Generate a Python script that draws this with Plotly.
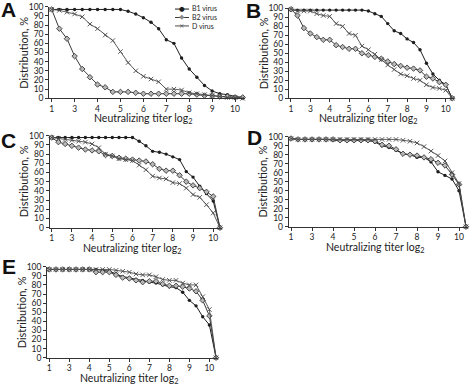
import plotly.graph_objects as go

# ---------------- data ----------------
x_index = list(range(26))                      # dilution steps (category positions)
tick_pos = [0, 3, 6, 9, 12, 15, 18, 21, 24]
tick_text = ["1", "3", "4", "5", "6", "7", "8", "9", "10"]
y_ticks = [0, 10, 20, 30, 40, 50, 60, 70, 80, 90, 100]

series_names = ["B1 virus", "B2 virus", "D virus"]

A_B1 = [97, 97, 97, 97, 97, 97, 97, 97, 97, 97, 95, 92, 88, 83, 76, 64, 60, 44, 32, 23, 14, 8, 5, 4, 2, 1]
A_B2 = [97, 76, 65, 46, 32, 23, 15, 12, 7, 7, 7, 6, 5, 5, 5, 5, 5, 5, 5, 4, 3, 3, 2, 2, 1, 1]
A_D  = [97, 96, 94, 92, 89, 81, 76, 69, 63, 51, 39, 30, 24, 21, 18, 10, 10, 9, 6, 5, 4, 3, 2, 1, 1, 0]

B_B1 = [98, 98, 98, 98, 98, 98, 98, 98, 98, 98, 98, 98, 97, 94, 91, 83, 75, 72, 66, 62, 54, 39, 27, 20, 15, 0]
B_B2 = [99, 92, 78, 72, 68, 65, 65, 59, 57, 55, 55, 50, 48, 46, 44, 41, 38, 36, 34, 33, 31, 24, 22, 18, 15, 0]
B_D  = [99, 97, 97, 97, 94, 92, 91, 83, 80, 72, 70, 58, 54, 49, 43, 37, 32, 27, 25, 22, 20, 15, 12, 11, 9, 0]

C_B1 = [98, 98, 98, 98, 98, 98, 98, 98, 98, 98, 98, 98, 98, 94, 89, 83, 82, 80, 77, 74, 61, 55, 45, 37, 29, 0]
C_B2 = [98, 93, 91, 89, 87, 85, 84, 83, 79, 78, 76, 75, 74, 73, 72, 69, 64, 62, 62, 57, 50, 46, 43, 39, 34, 0]
C_D  = [98, 97, 96, 95, 94, 93, 91, 87, 80, 78, 75, 74, 73, 68, 63, 56, 54, 53, 49, 48, 43, 36, 33, 25, 16, 0]

D_B1 = [98, 97, 97, 97, 97, 97, 96, 96, 96, 96, 96, 96, 94, 90, 88, 85, 81, 80, 77, 77, 72, 61, 57, 53, 40, 0]
D_B2 = [98, 97, 97, 97, 97, 97, 97, 96, 96, 96, 96, 96, 95, 91, 90, 86, 81, 80, 79, 77, 75, 71, 68, 58, 47, 0]
D_D  = [98, 97, 97, 97, 97, 97, 97, 97, 97, 97, 97, 97, 97, 97, 97, 97, 96, 95, 93, 89, 84, 79, 73, 60, 48, 0]

E_B1 = [97, 97, 97, 97, 97, 97, 97, 97, 96, 95, 92, 89, 88, 86, 85, 83, 82, 80, 78, 77, 72, 63, 57, 45, 36, 0]
E_B2 = [97, 97, 97, 97, 97, 97, 97, 94, 94, 94, 91, 88, 87, 85, 83, 84, 84, 81, 79, 79, 78, 76, 73, 63, 46, 0]
E_D  = [97, 97, 97, 97, 97, 97, 97, 97, 97, 97, 96, 95, 94, 92, 91, 91, 89, 86, 85, 85, 82, 80, 80, 67, 53, 0]

panels = [
    ("A", [A_B1, A_B2, A_D]),
    ("B", [B_B1, B_B2, B_D]),
    ("C", [C_B1, C_B2, C_D]),
    ("D", [D_B1, D_B2, D_D]),
    ("E", [E_B1, E_B2, E_D]),
]

# ---------------- layout geometry (pixels) ----------------
W, H = 474, 385
# (x of first point, px per step, y px of 100, y px of 0)
geom = {
    "A": (51.7, 7.64, 6.7, 98.3),
    "B": (291.0, 6.45, 8.3, 98.3),
    "C": (51.7, 6.73, 135.7, 227.7),
    "D": (291.0, 7.00, 136.7, 226.7),
    "E": (49.3, 6.67, 266.7, 357.7),
}
letter_pos = {"A": (8.5, 9.5), "B": (253.5, 10), "C": (8.5, 140), "D": (254, 137), "E": (8.5, 266.5)}
XR = (-0.32, 25.3)

line_cols = ["#1e1e1e", "#3a3a3a", "#4a4a4a"]
styles = [
    dict(line=dict(color=line_cols[0], width=1.0),
         marker=dict(symbol="circle", size=3.4, color=line_cols[0])),
    dict(line=dict(color=line_cols[1], width=1.0),
         marker=dict(symbol="diamond", size=4.2, color="#b8b8b8",
                     line=dict(color=line_cols[1], width=0.9))),
    dict(line=dict(color=line_cols[2], width=0.9),
         marker=dict(symbol="x-thin", size=4.5, color=line_cols[2],
                     line=dict(color=line_cols[2], width=0.9))),
]

FONT = "Lato"
fig = go.Figure()
layout = dict(
    width=W, height=H, margin=dict(l=0, r=0, t=0, b=0, pad=0),
    paper_bgcolor="white", plot_bgcolor="white",
    font=dict(family=FONT, color="#222"),
    showlegend=False,
)
annotations = []
shapes = []

def P(px, py):
    return px / W, 1 - py / H

for k, (name, series) in enumerate(panels):
    x0, s, y100, y0 = geom[name]
    left = x0 + XR[0] * s
    right = x0 + XR[1] * s
    xa = "xaxis" if k == 0 else f"xaxis{k+1}"
    ya = "yaxis" if k == 0 else f"yaxis{k+1}"
    xref = "x" if k == 0 else f"x{k+1}"
    yref = "y" if k == 0 else f"y{k+1}"
    layout[xa] = dict(domain=[left / W, right / W], range=list(XR), anchor=yref,
                      tickmode="array", tickvals=tick_pos, ticktext=tick_text,
                      showgrid=False, zeroline=False, showline=True, automargin=False,
                      linecolor="#333", linewidth=1, ticks="outside", ticklen=3,
                      ticklabelstandoff=-1,
                      tickcolor="#333", tickfont=dict(size=8.5, family=FONT, color="#222"))
    layout[ya] = dict(domain=[1 - y0 / H, 1 - y100 / H], range=[0, 100], anchor=xref,
                      tickmode="array", tickvals=y_ticks,
                      showgrid=False, zeroline=False, showline=True, automargin=False,
                      linecolor="#333", linewidth=1, ticks="outside", ticklen=3,
                      tickcolor="#333", tickfont=dict(size=8.5, family=FONT, color="#222"))
    for j, ys in enumerate(series):
        fig.add_trace(go.Scatter(x=x_index, y=ys, mode="lines+markers",
                                 name=series_names[j], showlegend=False,
                                 xaxis=xref, yaxis=yref, cliponaxis=False,
                                 **styles[j]))
    # panel letter
    lx, ly = P(*letter_pos[name])
    annotations.append(dict(text=f"<b>{name}</b>", x=lx, y=ly, xanchor="center", yanchor="middle",
                            xref="paper", yref="paper", showarrow=False,
                            font=dict(size=21, family="Liberation Sans", color="#111")))
    # axis titles
    cx = (x0 + (x0 + 24 * s)) / 2
    tx, ty = P(cx, y0 + 21)
    annotations.append(dict(text="Neutralizing titer log<sub>2</sub>", x=tx, y=ty,
                            xanchor="center", yanchor="middle",
                            xref="paper", yref="paper", showarrow=False,
                            font=dict(size=10.5, family=FONT, color="#222")))
    dx, dy = P(left - 26, (y0 + y100) / 2)
    annotations.append(dict(text="Distribution, %", x=dx, y=dy,
                            xanchor="center", yanchor="middle",
                            xref="paper", yref="paper", showarrow=False, textangle=-90,
                            font=dict(size=11, family=FONT, color="#222")))

# compact legend for panel A (key swatches + labels), one block of text
LEG_FS = 6.5
row_gap = 1.3 * LEG_FS
leg_mid = 17.5
glyphs = ["●", "◆", "×"]
glyph_cols = [line_cols[0], "#8a8a8a", line_cols[2]]
for j in range(3):
    ry = leg_mid + (j - 1) * row_gap
    x1, yy = P(175, ry)
    x2, _ = P(189, ry)
    shapes.append(dict(type="line", xref="paper", yref="paper", x0=x1, x1=x2, y0=yy, y1=yy,
                       line=dict(color=line_cols[j], width=1)))
gx, gy = P(182, leg_mid)
annotations.append(dict(
    text="<br>".join(f"<span style='color:{c}'>{g}</span>" for g, c in zip(glyphs, glyph_cols)),
    x=gx, y=gy, xanchor="center", yanchor="middle", align="center",
    xref="paper", yref="paper", showarrow=False, borderpad=0,
    font=dict(size=LEG_FS, family="DejaVu Sans", color="#222")))
lx, ly = P(191, leg_mid)
annotations.append(dict(text="<br>".join(series_names), x=lx, y=ly,
                        xanchor="left", yanchor="middle", align="left",
                        xref="paper", yref="paper", showarrow=False, borderpad=0,
                        font=dict(size=LEG_FS + 0.5, family=FONT, color="#222")))

layout["annotations"] = annotations
layout["shapes"] = shapes
fig.update_layout(**layout)
fig.write_html("out.html", config={"displayModeBar": False},
               post_script="document.body.style.margin='0px';document.body.style.overflow='hidden';")
